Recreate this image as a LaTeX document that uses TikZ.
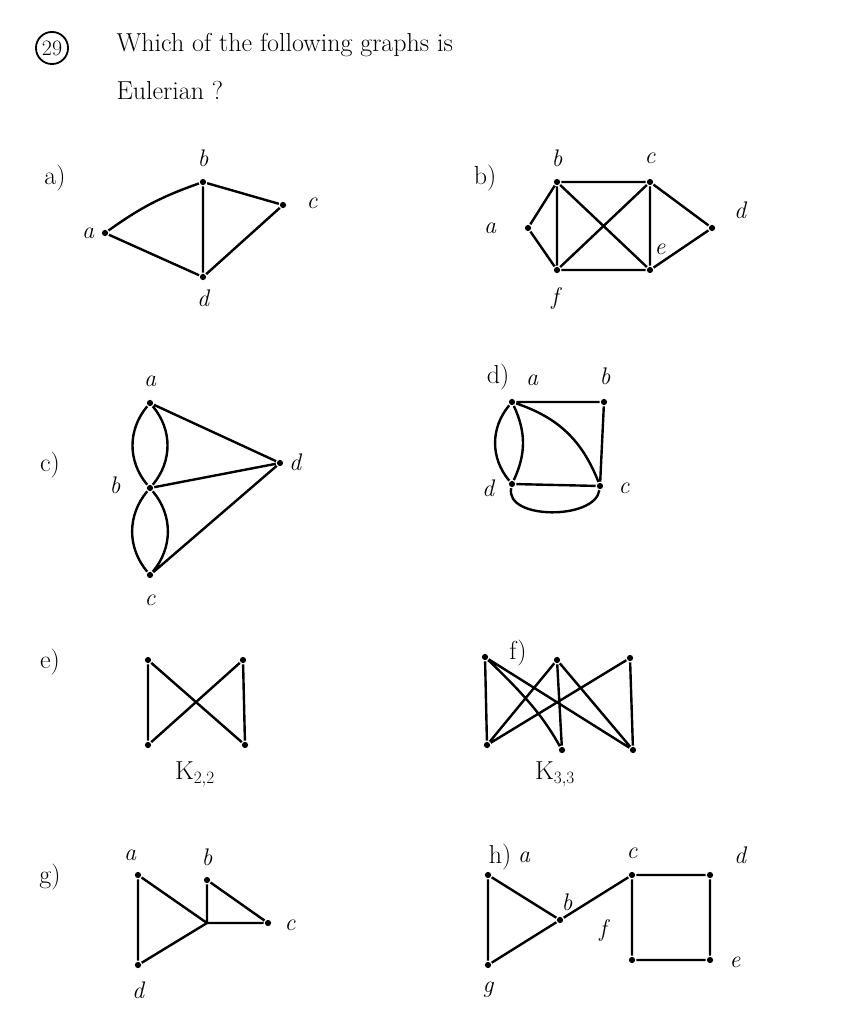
\documentclass[tikz,border=0pt]{standalone}
\begin{document}
\begin{tikzpicture}[x=1pt,y=-1pt,line width=2.4pt,
  v/.style={circle,fill,inner sep=2.2pt},
  lb/.style={font=\fontsize{24}{26}\selectfont\itshape},
  ql/.style={font=\fontsize{26}{28}\selectfont}]
\useasboundingbox (0,0) rectangle (863,1024);
\node[circle,draw,line width=1.8pt,inner sep=2.5pt,font=\fontsize{22}{24}\selectfont] (q) at (52,48) {29};
\node[ql,anchor=west] (t1) at (112,45) {Which of the following graphs is};
\node[ql,anchor=west] (t2) at (112,90) {Eulerian ?};
% a)
\node[ql] (la) at (55,178) {a)};
\node[v] (aa) at (105,233) {}; \node[v] (ab) at (203,182) {};
\node[v] (ac) at (283,205) {}; \node[v] (ad) at (203,277) {};
\node[lb] at (88,233) {a}; \node[lb] at (203,158) {b}; \node[lb] at (312,203) {c}; \node[lb] at (203,298) {d};
\draw (aa) to[bend left=8] (ab) (aa)--(ad) (ab)--(ad) (ab)--(ac) (ad)--(ac);
% b)
\node[ql] (lb2) at (485,178) {b)};
\node[v] (ba) at (528,228) {}; \node[v] (bb) at (557,182) {}; \node[v] (bc) at (650,182) {};
\node[v] (bd) at (712,228) {}; \node[v] (be) at (650,270) {}; \node[v] (bf) at (557,270) {};
\node[lb] at (490,228) {a}; \node[lb] at (557,158) {b}; \node[lb] at (650,158) {c};
\node[lb] at (740,210) {d}; \node[lb] at (660,249) {e}; \node[lb] at (555,298) {f};
\draw (ba)--(bb) (ba)--(bf) (bb)--(bc) (bf)--(be) (bb)--(be) (bc)--(bf) (bb)--(bf) (bc)--(be) (bc)--(bd) (be)--(bd);
% c)
\node[ql] (lc) at (50,465) {c)};
\node[v] (ca) at (150,403) {}; \node[v] (cb) at (150,488) {}; \node[v] (cc) at (150,575) {}; \node[v] (cd) at (280,463) {};
\node[lb] at (150,381) {a}; \node[lb] at (115,485) {b}; \node[lb] at (150,600) {c}; \node[lb] at (295,462) {d};
\draw (ca) to[bend right=40] (cb) (ca) to[bend left=40] (cb) (cb) to[bend right=40] (cc) (cb) to[bend left=40] (cc)
  (ca)--(cd) (cb)--(cd) (cc)--(cd);
% d)
\node[ql] (ld) at (498,377) {d)};
\node[v] (da) at (512,402) {}; \node[v] (db) at (604,402) {}; \node[v] (dc) at (600,486) {}; \node[v] (dd) at (512,484) {};
\node[lb] at (532,380) {a}; \node[lb] at (605,376) {b}; \node[lb] at (624,488) {c}; \node[lb] at (488,488) {d};
\draw (da)--(db) (db)--(dc) (dd)--(dc) (da) to[bend right=40] (dd) (da) to[bend left=25] (dd)
  (da) to[bend left=25] (dc) (dd) .. controls (505,520) and (595,520) .. (dc);
% e)
\node[ql] (le) at (50,662) {e)};
\node[v] (e1) at (148,660) {}; \node[v] (e2) at (243,660) {}; \node[v] (e3) at (148,745) {}; \node[v] (e4) at (245,745) {};
\draw (e1)--(e3) (e2)--(e4) (e1)--(e4) (e2)--(e3);
\node[ql] (ke) at (195,774) {K$_{2,2}$};
% f)
\node[ql] (lf) at (518,653) {f)};
\node[v] (f1) at (485,657) {}; \node[v] (f2) at (557,660) {}; \node[v] (f3) at (630,658) {};
\node[v] (f4) at (487,745) {}; \node[v] (f5) at (562,750) {}; \node[v] (f6) at (633,750) {};
\draw (f1)--(f4) (f1)--(f6) (f2)--(f4) (f2)--(f5) (f2)--(f6) (f3)--(f4) (f3)--(f6)
  (f1) .. controls (530,700) and (545,720) .. (f5);
\node[ql] (kf) at (555,774) {K$_{3,3}$};
% g)
\node[ql] (lg) at (50,877) {g)};
\node[v] (ga) at (138,875) {}; \node[v] (gb) at (207,880) {}; \node[v] (gc) at (268,923) {};
\node[v] (gd) at (138,965) {}; \coordinate (gj) at (207,923);
\node[lb] at (130,855) {a}; \node[lb] at (207,857) {b}; \node[lb] at (290,925) {c}; \node[lb] at (138,990) {d};
\draw (ga)--(gj) (gj)--(gd) (ga)--(gd) (gb)--(gj) (gb)--(gc) (gj)--(gc);
% h)
\node[ql] (lh) at (500,857) {h)};
\node[v] (ha) at (488,875) {}; \node[v] (hg) at (488,965) {}; \node[v] (hb) at (560,920) {};
\node[v] (hc) at (632,875) {}; \node[v] (hd) at (710,875) {}; \node[v] (he) at (710,960) {}; \node[v] (hf) at (632,960) {};
\node[lb] at (524,857) {a}; \node[lb] at (488,990) {g}; \node[lb] at (567,902) {b}; \node[lb] at (632,853) {c};
\node[lb] at (740,855) {d}; \node[lb] at (735,962) {e}; \node[lb] at (603,930) {f};
\draw (ha)--(hg) (ha)--(hb) (hg)--(hb) (hb)--(hc) (hc)--(hd) (hd)--(he) (he)--(hf) (hf)--(hc);
\end{tikzpicture}
\end{document}
